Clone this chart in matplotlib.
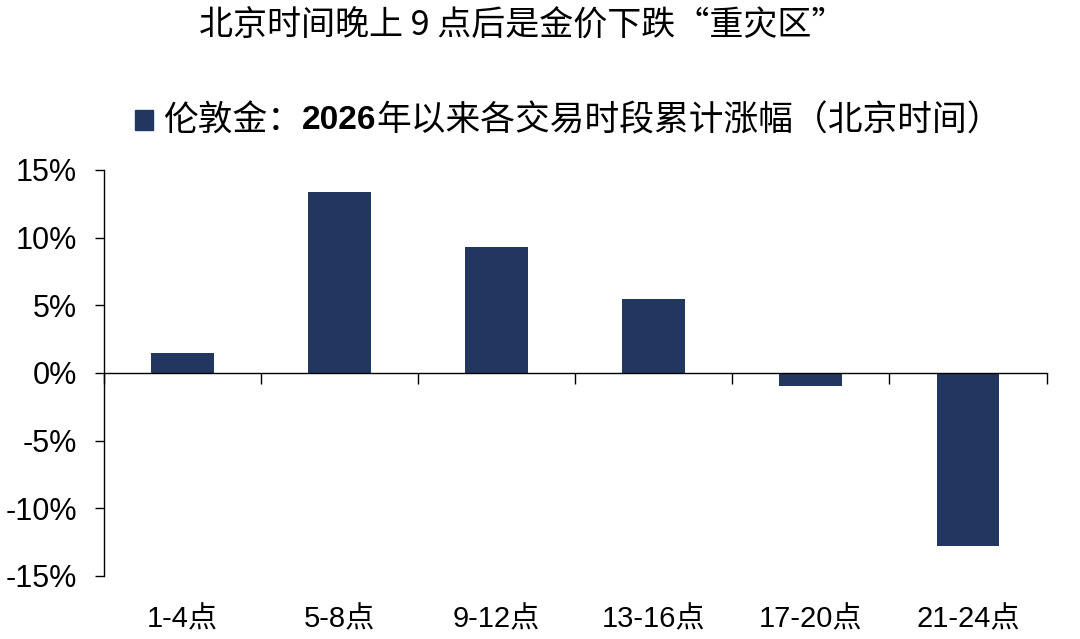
import matplotlib
matplotlib.use("Agg")
import matplotlib.pyplot as plt
from matplotlib.patches import Rectangle
from matplotlib.ticker import FuncFormatter

# données
periodes = ["1-4点", "5-8点", "9-12点", "13-16点", "17-20点", "21-24点"]
hausse = [1.5, 13.4, 9.3, 5.5, -0.95, -12.8]

titre = "北京时间晚上 9 点后是金价下跌“重灾区”"
legende = ["伦敦金：", "2026", "年以来各交易时段累计涨幅（北京时间）"]
couleur = "#22375f"

plt.rcParams["font.family"] = ["Liberation Sans", "Noto Sans CJK SC"]
cjk = ["Noto Sans CJK SC", "DejaVu Sans"]

fig = plt.figure(figsize=(10.8, 6.39), dpi=100)
ax = fig.add_axes([0.0963, 0.0986, 0.8727, 0.6354])

x = list(range(len(periodes)))
ax.bar(x, hausse, width=0.4, color=couleur, zorder=2)

ax.set_xlim(-0.5, len(periodes) - 0.5)
ax.set_ylim(-15, 15)
ax.set_yticks([-15, -10, -5, 0, 5, 10, 15])
ax.yaxis.set_major_formatter(FuncFormatter(lambda v, p: f"{v:.0f}%"))
ax.tick_params(axis="y", direction="out", length=6.5, width=1, labelsize=22, pad=13)

# axe des x sur la ligne zéro, graduations entre les catégories
ax.spines["bottom"].set_position(("data", 0))
ax.spines["top"].set_visible(False)
ax.spines["right"].set_visible(False)
ax.spines["left"].set_linewidth(1)
ax.spines["bottom"].set_linewidth(1)
ax.set_xticks([i - 0.5 for i in range(len(periodes) + 1)])
ax.set_xticklabels([])
ax.tick_params(axis="x", direction="out", length=8, width=1)
for i, p in enumerate(periodes):
    ax.text(i, -18.2, p, ha="center", va="center", fontsize=21, clip_on=False)

fig.text(0.4835, 0.961, titre, ha="center", va="center", fontsize=24.5, family=cjk)

# légende : carré + texte en trois morceaux (2026 en gras)
fig.patches.append(Rectangle((0.125, 0.7966), 0.0167, 0.031, transform=fig.transFigure,
                             color=couleur, figure=fig))
renderer = fig.canvas.get_renderer()
xpos = 163
for morceau in legende:
    if morceau.isdigit():
        t = fig.text(xpos / 1080, 0.811, morceau, ha="left", va="center", fontsize=24,
                     fontweight="bold", family=["Liberation Sans"])
    else:
        t = fig.text(xpos / 1080, 0.811, morceau, ha="left", va="center", fontsize=25,
                     fontweight="medium", family=cjk)
    xpos = t.get_window_extent(renderer).x1

fig.savefig("out.png", dpi=100)
